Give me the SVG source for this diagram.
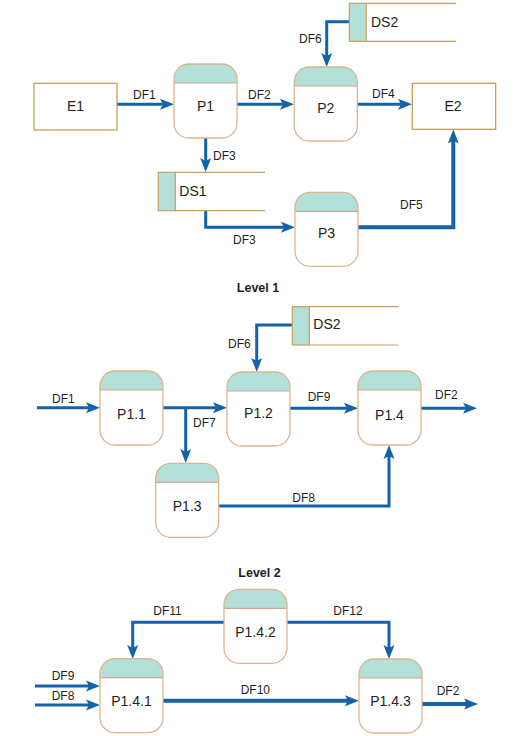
<svg xmlns="http://www.w3.org/2000/svg" xmlns:xlink="http://www.w3.org/1999/xlink" width="516" height="736" viewBox="0 0 516 736">
<style>
.bg{fill:#ffffff}
.ent{fill:#ffffff;stroke:#c8934c;stroke-width:1.2}
.ds{fill:none;stroke:#c8a05c;stroke-width:1.2}
.dsh{fill:#b3e0d9;stroke:#c8a05c;stroke-width:1.2}
.pbody{fill:#ffffff}
.phead{fill:#b3e0d9}
.pdiv{stroke:#d6a393;stroke-width:1.2}
.pout{fill:none;stroke:#dab590;stroke-width:1.3}
.flow{fill:none;stroke:#1463a8;stroke-width:3;marker-end:url(#ah)}
.flow4{fill:none;stroke:#1463a8;stroke-width:4;marker-end:url(#ah)}
.plain{fill:none;stroke:#1463a8;stroke-width:3}
.nl{font-family:"Liberation Sans",Arial,sans-serif;font-size:14px;fill:#231f20;text-anchor:middle}
.sl{font-family:"Liberation Sans",Arial,sans-serif;font-size:14px;fill:#231f20}
.fl{font-family:"Liberation Sans",Arial,sans-serif;font-size:12px;fill:#231f20}
.ttl{font-family:"Liberation Sans",Arial,sans-serif;font-size:12.5px;font-weight:bold;fill:#231f20;text-anchor:middle}
</style>
<defs>
<marker id="ah" markerUnits="userSpaceOnUse" markerWidth="14" markerHeight="12" refX="8" refY="6" orient="auto">
<path d="M0,0.5 L14,6 L0,11.5 L3,6 Z" fill="#1463a8"/>
</marker>
<g id="proc">
<rect class="pbody" x="0" y="0" width="63" height="74" rx="15"/>
<path class="phead" d="M0,19 V15 A15,15 0 0 1 15,0 H48 A15,15 0 0 1 63,15 V19 Z"/>
<line class="pdiv" x1="0" y1="19" x2="63" y2="19"/>
<rect class="pout" x="0" y="0" width="63" height="74" rx="15"/>
</g>
</defs>
<rect class="bg" x="0" y="0" width="516" height="736"/>

<g id="connectors">
<!-- Level 0 -->
<path class="flow" d="M117,104.3 H168"/>
<path class="flow" d="M237,104.3 H288"/>
<path class="flow" d="M357,104.3 H406"/>
<path class="flow" d="M349,21.7 H326.7 V61"/>
<path class="flow" d="M205.7,138 V166"/>
<path class="flow" d="M205.7,211 V227.3 H289"/>
<path class="flow4" d="M358,227.3 H453.3 V135.5"/>
<!-- Level 1 -->
<path class="flow" d="M37,407.7 H94"/>
<path class="flow" d="M292.3,325 H256.7 V366"/>
<path class="flow" d="M163,407.7 H221"/>
<path class="flow" d="M185.7,407.7 V457"/>
<path class="flow" d="M290,408.3 H352"/>
<path class="flow" d="M421,408.3 H471"/>
<path class="flow" d="M219,506 H389 V451"/>
<!-- Level 2 -->
<path class="flow" d="M224,622.3 H132.7 V653"/>
<path class="flow" d="M287,622.3 H389 V653"/>
<path class="flow" d="M35,686 H94"/>
<path class="flow" d="M35,705 H94"/>
<path class="flow4" d="M163,700.7 H353"/>
<path class="flow4" d="M422,704 H472"/>
</g>

<g id="flow-labels">
<text class="fl" x="133" y="98.5">DF1</text>
<text class="fl" x="248" y="98.5">DF2</text>
<text class="fl" x="372" y="97.5">DF4</text>
<text class="fl" x="299" y="43">DF6</text>
<text class="fl" x="213" y="160">DF3</text>
<text class="fl" x="233" y="244">DF3</text>
<text class="fl" x="400" y="209">DF5</text>
<text class="fl" x="52" y="403">DF1</text>
<text class="fl" x="228" y="348">DF6</text>
<text class="fl" x="193" y="427">DF7</text>
<text class="fl" x="307.7" y="400.7">DF9</text>
<text class="fl" x="435" y="399">DF2</text>
<text class="fl" x="292.3" y="502">DF8</text>
<text class="fl" x="153.3" y="615">DF11</text>
<text class="fl" x="333.3" y="615">DF12</text>
<text class="fl" x="51.7" y="680">DF9</text>
<text class="fl" x="51.7" y="700">DF8</text>
<text class="fl" x="240.7" y="693.5">DF10</text>
<text class="fl" x="436.7" y="695">DF2</text>
</g>

<g id="titles">
<text class="ttl" x="258" y="292">Level 1</text>
<text class="ttl" x="259.5" y="576.7">Level 2</text>
</g>

<!-- Level 0 nodes -->
<g id="E1">
<rect class="ent" x="34" y="83.3" width="83" height="46.7"/>
<text class="nl" x="75.5" y="111">E1</text>
</g>
<g id="E2">
<rect class="ent" x="412.3" y="83.3" width="83.4" height="46"/>
<text class="nl" x="453" y="110.5">E2</text>
</g>
<g id="P1">
<use xlink:href="#proc" href="#proc" x="174" y="64"/>
<text class="nl" x="205.5" y="111">P1</text>
</g>
<g id="P2">
<use xlink:href="#proc" href="#proc" x="294.3" y="67"/>
<text class="nl" x="325.8" y="113">P2</text>
</g>
<g id="P3">
<use xlink:href="#proc" href="#proc" x="295" y="192.3"/>
<text class="nl" x="326.5" y="238.3">P3</text>
</g>
<g id="DS2">
<rect class="dsh" x="349.3" y="3.3" width="17" height="38"/>
<path class="ds" d="M366.3,3.3 H456 M366.3,41.3 H456"/>
<text class="sl" x="371" y="26.5">DS2</text>
</g>
<g id="DS1">
<rect class="dsh" x="158.3" y="172.3" width="17" height="38.4"/>
<path class="ds" d="M175.3,172.3 H265 M175.3,210.7 H265"/>
<text class="sl" x="179.3" y="196">DS1</text>
</g>

<!-- Level 1 nodes -->
<g id="P1.1">
<use xlink:href="#proc" href="#proc" x="100" y="371"/>
<text class="nl" x="131.5" y="419">P1.1</text>
</g>
<g id="P1.2">
<use xlink:href="#proc" href="#proc" x="227" y="372"/>
<text class="nl" x="258.5" y="418">P1.2</text>
</g>
<g id="P1.3">
<use xlink:href="#proc" href="#proc" x="155.7" y="463.3"/>
<text class="nl" x="187.2" y="510.5">P1.3</text>
</g>
<g id="P1.4">
<use xlink:href="#proc" href="#proc" x="358" y="371"/>
<text class="nl" x="389.5" y="420">P1.4</text>
</g>
<g id="DS2-L1">
<rect class="dsh" x="292.3" y="306.7" width="17" height="38.3"/>
<path class="ds" d="M309.3,306.7 H398.3 M309.3,345 H398.3"/>
<text class="sl" x="313.3" y="329">DS2</text>
</g>

<!-- Level 2 nodes -->
<g id="P1.4.2">
<use xlink:href="#proc" href="#proc" x="224" y="589.3"/>
<text class="nl" x="255.5" y="636.7">P1.4.2</text>
</g>
<g id="P1.4.1">
<use xlink:href="#proc" href="#proc" x="100" y="658.7"/>
<text class="nl" x="131.5" y="705.5">P1.4.1</text>
</g>
<g id="P1.4.3">
<use xlink:href="#proc" href="#proc" x="359" y="659"/>
<text class="nl" x="390.5" y="705.5">P1.4.3</text>
</g>
</svg>
